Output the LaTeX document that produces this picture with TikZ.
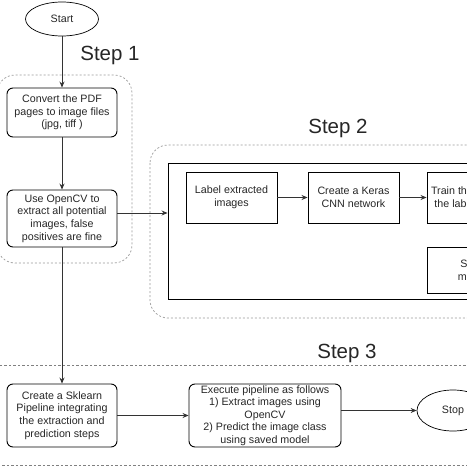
\documentclass[tikz,border=0pt]{standalone}
\usepackage{fontspec}
\setmainfont{Liberation Sans}
\usetikzlibrary{arrows.meta,shapes.geometric}
\begin{document}
\begin{tikzpicture}[x=1pt,y=-1pt,
  txt/.style={font=\fontsize{10.7}{12.7}\selectfont, align=center, text=black!85},
  rbox/.style={txt, draw, line width=0.9pt, rounded corners=6pt, minimum width=110pt, inner sep=0pt},
  sbox/.style={txt, draw, line width=0.9pt, minimum width=91pt, inner sep=0pt},
  oval/.style={txt, draw, ellipse, line width=0.7pt, inner sep=0pt},
  steplabel/.style={font=\fontsize{20.5}{24}\selectfont, text=black!85},
  container/.style={draw=gray!80, dash pattern=on 2pt off 2pt, line width=0.7pt, rounded corners=18pt},
  stepband/.style={draw=gray, dash pattern=on 2.5pt off 2pt, line width=0.7pt},
  conn/.style={-{Stealth[length=6pt,width=5pt]}, line width=0.8pt, draw=black!80}
]
\useasboundingbox (0,0) rectangle (467,466);
\clip (0,0) rectangle (467,466);

% containers
\draw[container] (-3,75) rectangle (132,263);
\draw[container] (150,145) rectangle (520,318);
\draw[stepband] (-10,365) rectangle (490,465);

% step labels
\node[steplabel] (s1) at (110,55) {Step 1};
\node[steplabel] (s2) at (338,128) {Step 2};
\node[steplabel] (s3) at (347,353) {Step 3};

% Step 1
\node[oval, minimum width=73pt, minimum height=34pt] (start) at (62,19) {Start};
\node[rbox, minimum height=49pt] (convert) at (62,112.5) {Convert the PDF\\pages to image files\\(jpg, tiff )};
\node[rbox, minimum height=57pt] (opencv) at (62,218.5) {Use OpenCV to\\extract all potential\\images, false\\positives are fine};

% Step 2
\node[draw, line width=0.9pt, minimum width=340pt, minimum height=136pt, inner sep=0pt] (inner) at (338,231) {};
\node[sbox, minimum height=51pt] (label) at (231.5,197.5) {Label extracted\\images};
\node[sbox, minimum height=51pt] (keras) at (353.5,197.5) {Create a Keras\\CNN network};
\node[sbox, minimum height=51pt] (train) at (472.5,197.5) {Train the CNN on\\the labeled data};
\node[sbox, minimum height=46pt] (save) at (472.5,270) {Save\\model};

% Step 3
\node[rbox, minimum height=63pt] (sklearn) at (62,415.5) {Create a Sklearn\\Pipeline integrating\\the extraction and\\prediction steps};
\node[rbox, minimum width=152pt, minimum height=63pt, font=\fontsize{10.7}{12.4}\selectfont] (execute) at (265,415.5) {Execute pipeline as follows\\1) Extract images using\\OpenCV\\2) Predict the image class\\using saved model};
\node[oval, minimum width=72pt, minimum height=41pt] (stop) at (453,410.5) {Stop};

% connectors
\coordinate (a2) at (168,213);
\draw[conn] (start) -- (convert);
\draw[conn] (convert) -- (opencv);
\draw[conn] (opencv) -- (sklearn);
\draw[conn] (opencv.east |- a2) -- (inner.west |- a2);
\draw[conn] (label) -- (keras);
\draw[conn] (keras) -- (train);
\draw[conn] (sklearn) -- (execute);
\draw[conn] (execute.east |- stop.west) -- (stop.west);
\end{tikzpicture}
\end{document}
